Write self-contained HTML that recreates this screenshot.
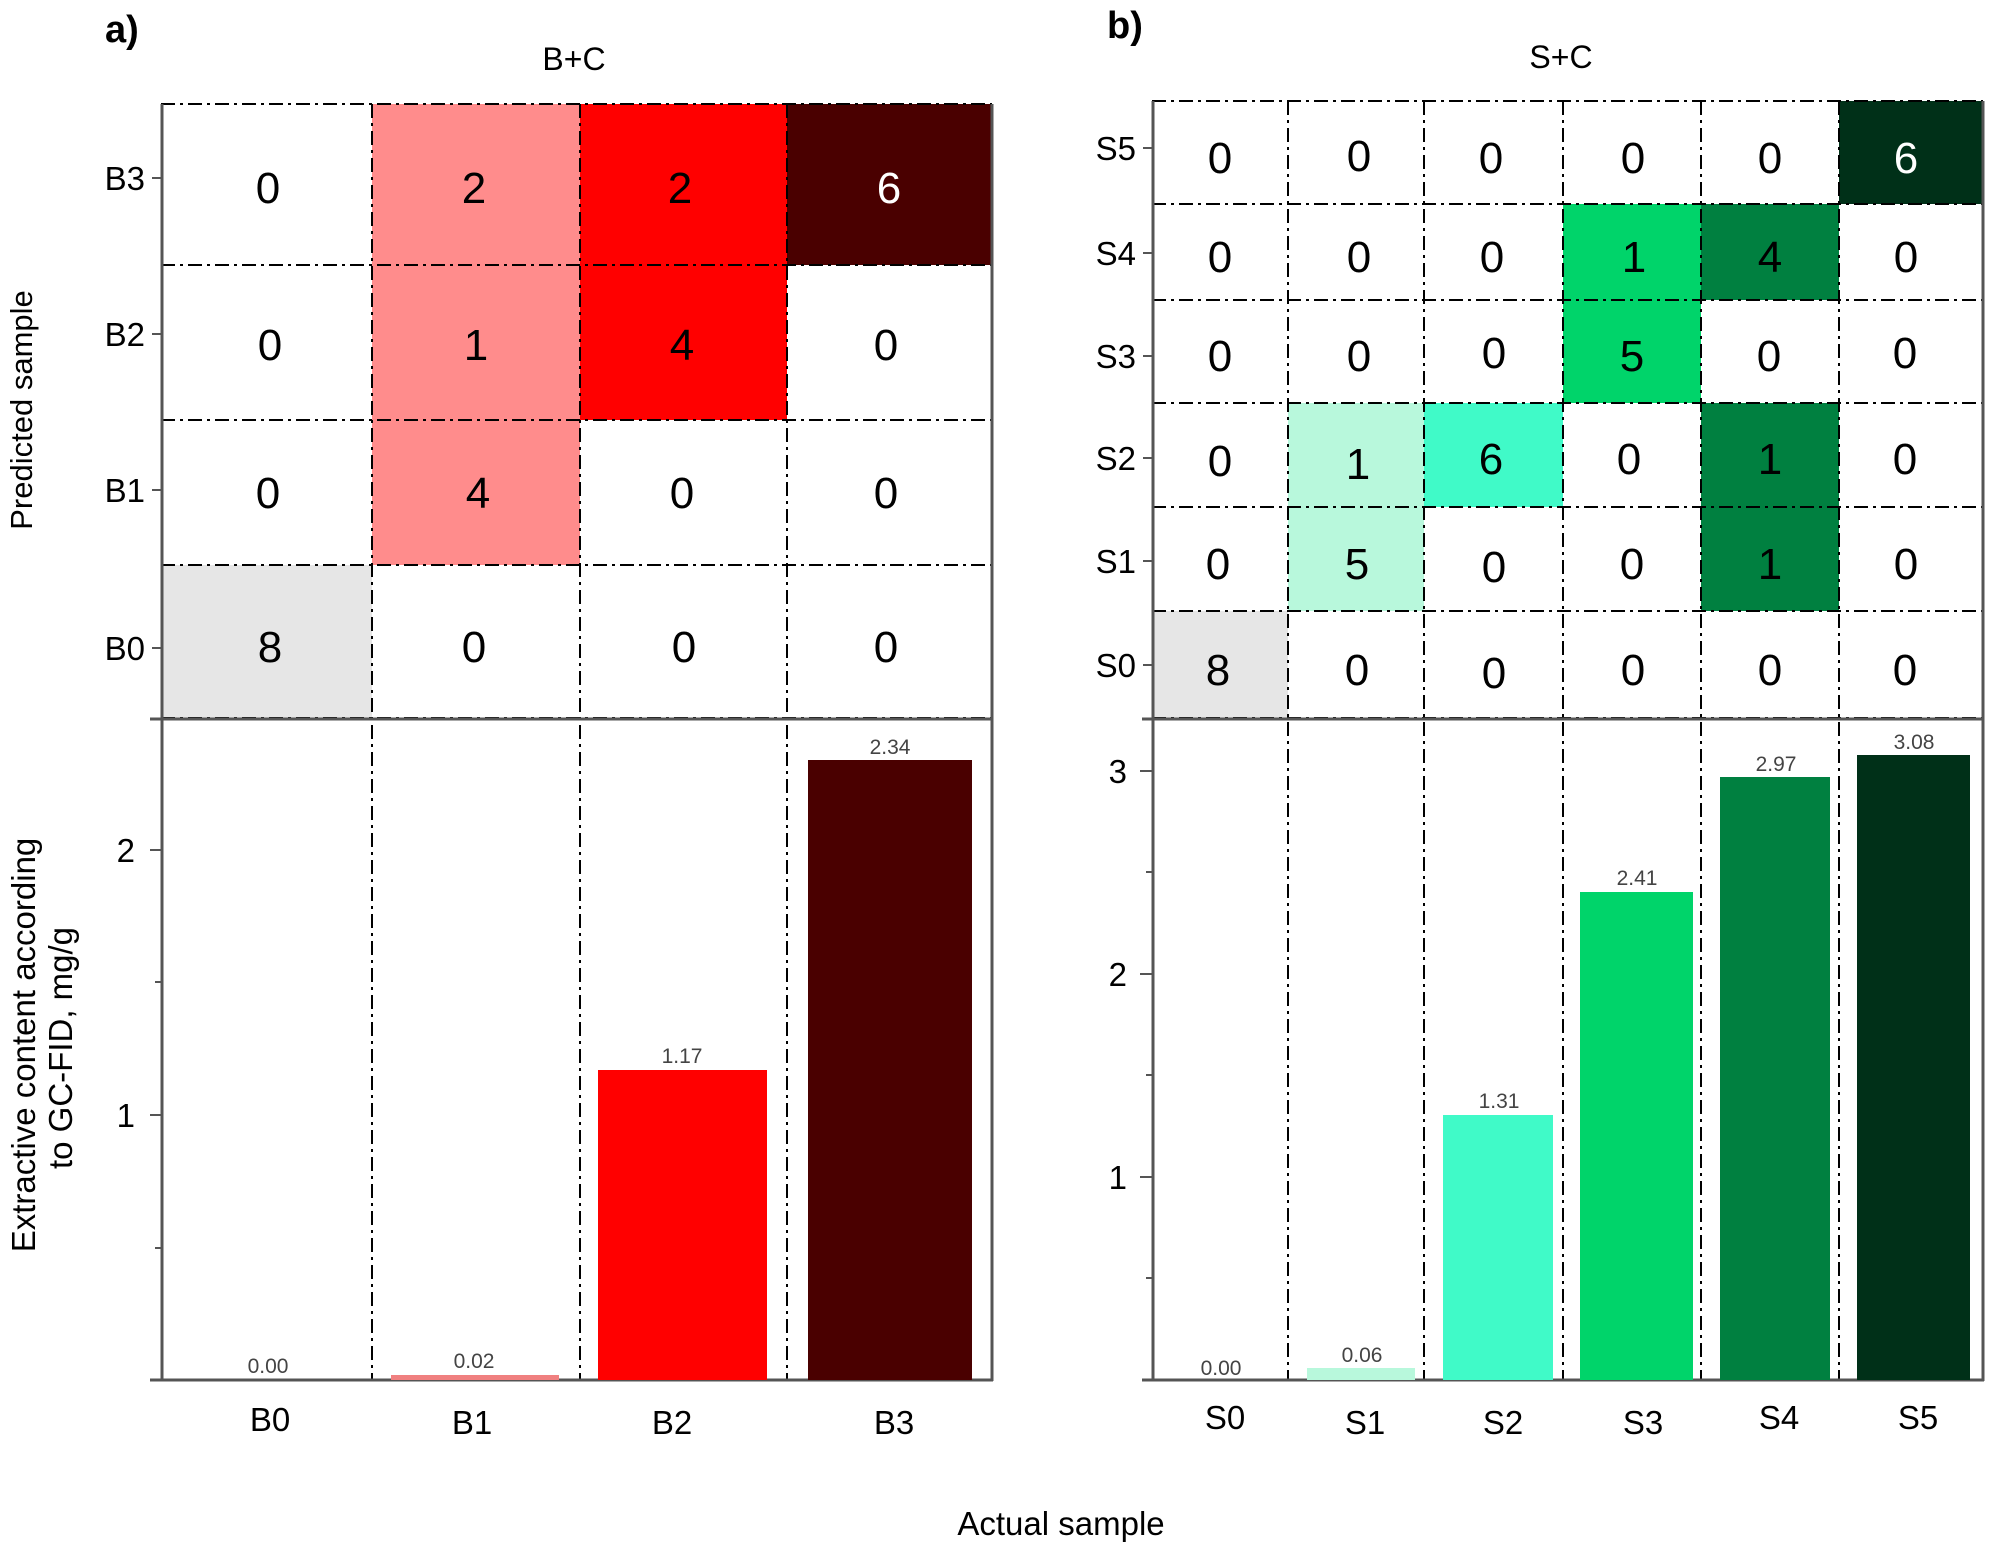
<!DOCTYPE html>
<html><head><meta charset="utf-8"><style>
html,body{margin:0;padding:0;background:#fff;}
svg{display:block;font-family:"Liberation Sans",sans-serif;}
</style></head><body>
<svg width="1990" height="1548" viewBox="0 0 1990 1548" xmlns="http://www.w3.org/2000/svg">
<rect width="1990" height="1548" fill="#fff"/>
<!-- ===== Panel a ===== -->
<text x="105" y="42" font-size="38" font-weight="bold">a)</text>
<text x="574" y="70" font-size="32" text-anchor="middle">B+C</text>
<rect x="161" y="565" width="211" height="153" fill="#e6e6e6"/>
<rect x="372" y="104" width="208" height="461" fill="#ff8c8c"/>
<rect x="580" y="104" width="207" height="316" fill="#ff0000"/>
<rect x="787" y="104" width="205" height="161" fill="#4a0000"/>
<g stroke="#000" stroke-width="2" stroke-dasharray="14 5 3 5" fill="none">
<line x1="372" y1="104" x2="372" y2="1380"/>
<line x1="580" y1="104" x2="580" y2="1380"/>
<line x1="787" y1="104" x2="787" y2="1380"/>
<line x1="161" y1="265" x2="992" y2="265"/>
<line x1="161" y1="420" x2="992" y2="420"/>
<line x1="161" y1="565" x2="992" y2="565"/>
<line x1="161" y1="104" x2="992" y2="104"/>
<line x1="161" y1="718" x2="992" y2="718"/>
</g>
<g stroke="#555" stroke-width="3" fill="none">
<line x1="162" y1="104" x2="162" y2="1381"/>
<line x1="992" y1="104" x2="992" y2="1381"/>
<line x1="150" y1="1380" x2="993" y2="1380"/>
<line x1="150" y1="719" x2="993" y2="719"/>
</g>
<g stroke="#555" stroke-width="2">
<line x1="152" y1="178" x2="162" y2="178"/><line x1="152" y1="334" x2="162" y2="334"/>
<line x1="152" y1="490" x2="162" y2="490"/><line x1="152" y1="648" x2="162" y2="648"/>
<line x1="150" y1="850" x2="162" y2="850"/><line x1="150" y1="1115" x2="162" y2="1115"/>
<line x1="155" y1="982" x2="162" y2="982"/><line x1="155" y1="1248" x2="162" y2="1248"/>
</g>
<g font-size="33" text-anchor="end">
<text x="145" y="190">B3</text><text x="145" y="346">B2</text>
<text x="145" y="502">B1</text><text x="145" y="660">B0</text>
<text x="135" y="862">2</text><text x="135" y="1127">1</text>
</g>
<g font-size="44" text-anchor="middle">
<text x="268" y="203">0</text><text x="474" y="203">2</text><text x="680" y="203">2</text><text x="889" y="203" fill="#fff">6</text>
<text x="270" y="360">0</text><text x="476" y="360">1</text><text x="682" y="360">4</text><text x="886" y="360">0</text>
<text x="268" y="508">0</text><text x="478" y="508">4</text><text x="682" y="508">0</text><text x="886" y="508">0</text>
<text x="270" y="662">8</text><text x="474" y="662">0</text><text x="684" y="662">0</text><text x="886" y="662">0</text>
</g>
<rect x="391" y="1375" width="168" height="5" fill="#f08080"/>
<rect x="598" y="1070" width="169" height="310" fill="#ff0000"/>
<rect x="808" y="760" width="164" height="620" fill="#4a0000"/>
<g font-size="21" fill="#444" text-anchor="middle">
<text x="268" y="1373">0.00</text><text x="474" y="1368">0.02</text>
<text x="682" y="1063">1.17</text><text x="890" y="754">2.34</text>
</g>
<g font-size="33" text-anchor="middle">
<text x="270" y="1431">B0</text><text x="472" y="1434">B1</text><text x="672" y="1434">B2</text><text x="894" y="1434">B3</text>
</g>
<text font-size="31" text-anchor="middle" transform="translate(32,410) rotate(-90)">Predicted sample</text>
<text font-size="33" text-anchor="middle" transform="translate(35,1045) rotate(-90)">Extractive content according</text>
<text font-size="33" text-anchor="middle" transform="translate(72,1048) rotate(-90)">to GC-FID, mg/g</text>
<!-- ===== Panel b ===== -->
<text x="1107" y="38" font-size="38" font-weight="bold">b)</text>
<text x="1561" y="68" font-size="32" text-anchor="middle">S+C</text>
<rect x="1152" y="611" width="136" height="107" fill="#e6e6e6"/>
<rect x="1288" y="403" width="136" height="208" fill="#b8f8dc"/>
<rect x="1424" y="403" width="139" height="104" fill="#40fac8"/>
<rect x="1563" y="204" width="138" height="199" fill="#00d46a"/>
<rect x="1701" y="204" width="138" height="96" fill="#008040"/>
<rect x="1701" y="403" width="138" height="208" fill="#008040"/>
<rect x="1839" y="101" width="144" height="103" fill="#003018"/>
<g stroke="#000" stroke-width="2" stroke-dasharray="14 5 3 5" fill="none">
<line x1="1288" y1="101" x2="1288" y2="1380"/>
<line x1="1424" y1="101" x2="1424" y2="1380"/>
<line x1="1563" y1="101" x2="1563" y2="1380"/>
<line x1="1701" y1="101" x2="1701" y2="1380"/>
<line x1="1839" y1="101" x2="1839" y2="1380"/>
<line x1="1152" y1="101" x2="1983" y2="101"/>
<line x1="1152" y1="204" x2="1983" y2="204"/>
<line x1="1152" y1="300" x2="1983" y2="300"/>
<line x1="1152" y1="403" x2="1983" y2="403"/>
<line x1="1152" y1="507" x2="1983" y2="507"/>
<line x1="1152" y1="611" x2="1983" y2="611"/>
<line x1="1152" y1="718" x2="1983" y2="718"/>
</g>
<g stroke="#555" stroke-width="3" fill="none">
<line x1="1153" y1="101" x2="1153" y2="1381"/>
<line x1="1983" y1="101" x2="1983" y2="1381"/>
<line x1="1142" y1="1380" x2="1984" y2="1380"/>
<line x1="1142" y1="719" x2="1984" y2="719"/>
</g>
<g stroke="#555" stroke-width="2">
<line x1="1143" y1="148" x2="1153" y2="148"/><line x1="1143" y1="253" x2="1153" y2="253"/>
<line x1="1143" y1="356" x2="1153" y2="356"/><line x1="1143" y1="458" x2="1153" y2="458"/>
<line x1="1143" y1="561" x2="1153" y2="561"/><line x1="1143" y1="665" x2="1153" y2="665"/>
<line x1="1140" y1="771" x2="1153" y2="771"/><line x1="1140" y1="974" x2="1153" y2="974"/>
<line x1="1140" y1="1177" x2="1153" y2="1177"/>
<line x1="1146" y1="872" x2="1153" y2="872"/><line x1="1146" y1="1075" x2="1153" y2="1075"/><line x1="1146" y1="1278" x2="1153" y2="1278"/>
</g>
<g font-size="33" text-anchor="end">
<text x="1136" y="160">S5</text><text x="1136" y="265">S4</text><text x="1136" y="368">S3</text>
<text x="1136" y="470">S2</text><text x="1136" y="573">S1</text><text x="1136" y="677">S0</text>
<text x="1127" y="783">3</text><text x="1127" y="986">2</text><text x="1127" y="1189">1</text>
</g>
<g font-size="44" text-anchor="middle">
<text x="1220" y="173">0</text><text x="1359" y="171">0</text><text x="1491" y="173">0</text><text x="1633" y="173">0</text><text x="1770" y="173">0</text><text x="1906" y="173" fill="#fff">6</text>
<text x="1220" y="272">0</text><text x="1359" y="272">0</text><text x="1492" y="272">0</text><text x="1634" y="272">1</text><text x="1770" y="272">4</text><text x="1906" y="272">0</text>
<text x="1220" y="371">0</text><text x="1359" y="371">0</text><text x="1494" y="368">0</text><text x="1632" y="371">5</text><text x="1769" y="371">0</text><text x="1905" y="368">0</text>
<text x="1220" y="476">0</text><text x="1358" y="479">1</text><text x="1491" y="474">6</text><text x="1629" y="474">0</text><text x="1770" y="474">1</text><text x="1905" y="474">0</text>
<text x="1218" y="579">0</text><text x="1357" y="579">5</text><text x="1494" y="582">0</text><text x="1632" y="579">0</text><text x="1770" y="579">1</text><text x="1906" y="579">0</text>
<text x="1218" y="685">8</text><text x="1357" y="685">0</text><text x="1494" y="688">0</text><text x="1633" y="685">0</text><text x="1770" y="685">0</text><text x="1905" y="685">0</text>
</g>
<rect x="1307" y="1368" width="108" height="12" fill="#b8f8dc"/>
<rect x="1443" y="1115" width="110" height="265" fill="#40fac8"/>
<rect x="1580" y="892" width="113" height="488" fill="#00d46a"/>
<rect x="1720" y="777" width="110" height="603" fill="#008040"/>
<rect x="1857" y="755" width="113" height="625" fill="#003018"/>
<g font-size="21" fill="#444" text-anchor="middle">
<text x="1221" y="1375">0.00</text><text x="1362" y="1362">0.06</text><text x="1499" y="1108">1.31</text>
<text x="1637" y="885">2.41</text><text x="1776" y="771">2.97</text><text x="1914" y="749">3.08</text>
</g>
<g font-size="33" text-anchor="middle">
<text x="1225" y="1429">S0</text><text x="1365" y="1434">S1</text><text x="1503" y="1434">S2</text>
<text x="1643" y="1434">S3</text><text x="1779" y="1429">S4</text><text x="1918" y="1429">S5</text>
</g>
<text x="1061" y="1535" font-size="33" text-anchor="middle">Actual sample</text>
</svg>
</body></html>
